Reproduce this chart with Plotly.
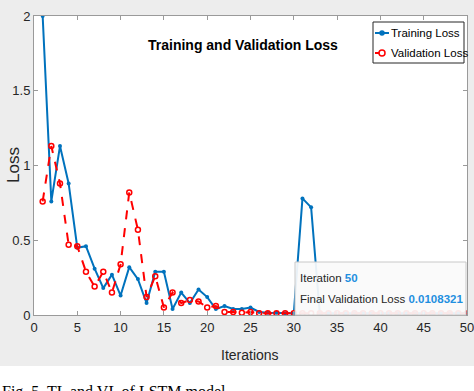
import plotly.graph_objects as go

iterations = list(range(1, 51))
training_loss = [2.0, 0.76, 1.13, 0.88, 0.45, 0.46, 0.31, 0.18, 0.27, 0.13,
                 0.32, 0.24, 0.08, 0.29, 0.29, 0.04, 0.15, 0.08, 0.17, 0.12,
                 0.04, 0.06, 0.04, 0.04, 0.05, 0.02, 0.015, 0.015, 0.012, 0.012,
                 0.78, 0.72, 0.012, 0.011, 0.011, 0.011, 0.011, 0.011, 0.011, 0.011,
                 0.011, 0.011, 0.011, 0.011, 0.011, 0.011, 0.011, 0.011, 0.011, 0.011]
validation_loss = [0.76, 1.13, 0.88, 0.47, 0.46, 0.29, 0.19, 0.29, 0.15, 0.34,
                   0.82, 0.57, 0.12, 0.26, 0.05, 0.15, 0.08, 0.10, 0.09, 0.05,
                   0.06, 0.02, 0.02, 0.015, 0.02, 0.012, 0.012, 0.012, 0.011, 0.011,
                   0.011, 0.011, 0.011, 0.011, 0.011, 0.011, 0.011, 0.011, 0.011, 0.011,
                   0.011, 0.011, 0.011, 0.011, 0.011, 0.011, 0.011, 0.011, 0.011, 0.0108321]
x_ticks = [0, 5, 10, 15, 20, 25, 30, 35, 40, 45, 50]
y_ticks = [0, 0.5, 1, 1.5, 2]
y_tick_labels = ["0", "0.5", "1", "1.5", "2"]
series_names = ["Training Loss", "Validation Loss"]

FONT = "Liberation Sans, Arial, sans-serif"
BLUE = "#0072BD"
RED = "#FF0000"
TIPBLUE = "#1f8fdf"

fig = go.Figure()
fig.add_trace(go.Scatter(
    x=iterations, y=training_loss, name=series_names[0], mode="lines+markers",
    line=dict(color=BLUE, width=2), marker=dict(size=4, color=BLUE)))
fig.add_trace(go.Scatter(
    x=iterations, y=validation_loss, name=series_names[1], mode="lines+markers",
    line=dict(color=RED, width=2, dash="dash"),
    marker=dict(size=5, symbol="circle-open", color=RED, line=dict(width=1.5, color=RED))))

W, H = 474, 391
L, R, T, B = 34, 7, 16, 76
pw, ph = W - L - R, H - T - B

def px_x(p):
    return (p - L) / pw

def px_y(p):
    return (H - B - p) / ph

# grey MATLAB figure background
fig.add_shape(type="rect", xref="paper", yref="paper", layer="below",
              x0=px_x(0), x1=px_x(W), y0=px_y(366), y1=px_y(0),
              fillcolor="#ededed", line=dict(width=0))
# white axes background
fig.add_shape(type="rect", xref="paper", yref="paper", layer="below",
              x0=0, x1=1, y0=0, y1=1, fillcolor="white", line=dict(width=0))

fig.add_annotation(xref="paper", yref="paper", x=px_x(243), y=px_y(45),
                   xanchor="center", yanchor="middle",
                   text="<b>Training and Validation Loss</b>", showarrow=False,
                   font=dict(family=FONT, size=14, color="black"))

# legend (MATLAB style box)
fig.add_shape(type="rect", xref="paper", yref="paper",
              x0=px_x(373), x1=px_x(464), y0=px_y(63), y1=px_y(22),
              fillcolor="white", line=dict(color="#262626", width=1))
legend_rows = [(33, BLUE, "solid", "circle", 2), (53, RED, "dash", "circle-open", 3)]
for name, (yy, col, dash, sym, rad) in zip(series_names, legend_rows):
    fig.add_shape(type="line", xref="paper", yref="paper",
                  x0=px_x(375), x1=px_x(389), y0=px_y(yy), y1=px_y(yy),
                  line=dict(color=col, width=2, dash="dash" if dash == "dash" else "solid"))
    fig.add_shape(type="circle", xref="paper", yref="paper",
                  xsizemode="pixel", ysizemode="pixel",
                  xanchor=px_x(382), yanchor=px_y(yy),
                  x0=-rad, x1=rad, y0=-rad, y1=rad,
                  fillcolor=col if sym == "circle" else "white",
                  line=dict(color=col, width=1.5))
    fig.add_annotation(xref="paper", yref="paper", x=px_x(389), y=px_y(yy),
                       xanchor="left", yanchor="middle", showarrow=False, text=name,
                       font=dict(family=FONT, size=11.5, color="black"))

# data tip
last_iter = iterations[-1]
last_val = validation_loss[-1]
fig.add_shape(type="rect", xref="paper", yref="paper",
              x0=px_x(295), x1=px_x(466), y0=px_y(315), y1=px_y(262),
              fillcolor="rgba(250,250,250,0.93)", line=dict(color="#c8c8c8", width=1))
fig.add_annotation(xref="paper", yref="paper", x=px_x(298), y=px_y(278),
                   xanchor="left", yanchor="middle", showarrow=False,
                   text=f"Iteration <b><span style='color:{TIPBLUE}'>{last_iter}</span></b>",
                   font=dict(family=FONT, size=11.5, color="#262626"))
fig.add_annotation(xref="paper", yref="paper", x=px_x(298), y=px_y(299),
                   xanchor="left", yanchor="middle", showarrow=False,
                   text=f"Final Validation Loss <b><span style='color:{TIPBLUE}'>{last_val}</span></b>",
                   font=dict(family=FONT, size=11.5, color="#262626"))

fig.add_annotation(xref="paper", yref="paper", x=px_x(0), y=px_y(381),
                   xanchor="left", yanchor="top", showarrow=False,
                   text="Fig. 5. TL and VL of LSTM model",
                   font=dict(family="Liberation Serif, Times New Roman, serif", size=16, color="black"))

fig.add_annotation(xref="paper", yref="paper", x=px_x(250), y=px_y(355),
                   xanchor="center", yanchor="middle",
                   text="Iterations", showarrow=False,
                   font=dict(family=FONT, size=14, color="#262626"))
fig.add_annotation(xref="paper", yref="paper", x=px_x(13), y=px_y(165),
                   xanchor="center", yanchor="middle",
                   text="Loss", showarrow=False, textangle=-90,
                   font=dict(family=FONT, size=17, color="#262626"))

fig.update_layout(
    width=W, height=H, margin=dict(l=L, r=R, t=T, b=B),
    paper_bgcolor="white", plot_bgcolor="white", showlegend=False,
    font=dict(family=FONT, size=13, color="#262626"),
    xaxis=dict(range=[0, 50], tickvals=x_ticks, ticks="inside", ticklen=4,
               mirror="allticks", showline=True, linecolor="#9a9a9a", linewidth=1,
               tickcolor="#9a9a9a", showgrid=False, zeroline=False, automargin=False,
               ticklabeloverflow="allow", tickfont=dict(size=13)),
    yaxis=dict(range=[0, 2], tickvals=y_ticks, ticktext=y_tick_labels, ticks="inside",
               ticklen=4, mirror="allticks", showline=True, linecolor="#9a9a9a", linewidth=1,
               tickcolor="#9a9a9a", showgrid=False, zeroline=False, automargin=False,
               ticklabeloverflow="allow", tickfont=dict(size=13)),
)

fig.write_html("out.html", config={"displayModeBar": False},
               post_script="document.body.style.margin='0px';")
